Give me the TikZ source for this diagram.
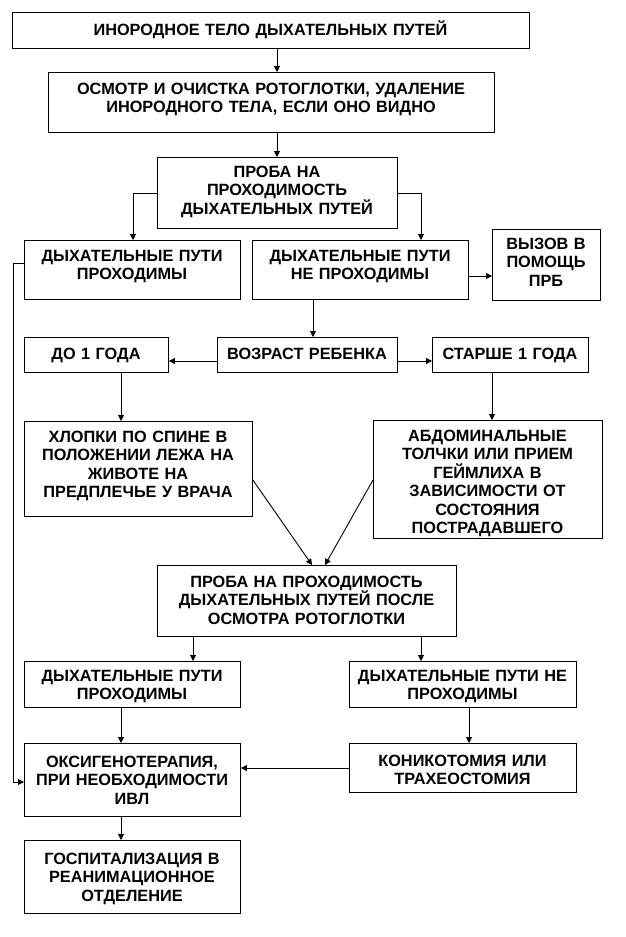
\documentclass[tikz,border=0pt]{standalone}
\usepackage{fontspec}
\setmainfont{Liberation Sans}
\usetikzlibrary{arrows.meta}
\newcommand\bxn[7]{%
  \node[box,minimum width={#4-#2},minimum height={#5-#3},anchor=north west] (#1) at (#2,#3) {};
  \node[lbl,text width={#4-#2-6},anchor=base] (#1t) at ({(#2+#4)/2},{#3+#6}) {#7};}
\begin{document}
\begin{tikzpicture}[x=1pt,y=-1pt,
  box/.style={draw=black,line width=0.9pt,inner sep=0pt,fill=white},
  lbl/.style={inner sep=0pt,align=center,font=\bfseries\fontsize{16.3}{18.5}\selectfont},
  arr/.style={draw=black,line width=0.9pt,-{Triangle[length=6pt,width=6pt]}},
  ln/.style={draw=black,line width=0.9pt}]
\useasboundingbox[fill=white] (0,0) rectangle (625,937);
\bxn{b1}{12}{12}{529}{48}{23}{ИНОРОДНОЕ ТЕЛО ДЫХАТЕЛЬНЫХ ПУТЕЙ}
\bxn{b2}{48}{72}{494}{132}{22}{ОСМОТР И ОЧИСТКА РОТОГЛОТКИ, УДАЛЕНИЕ\\ИНОРОДНОГО ТЕЛА, ЕСЛИ ОНО ВИДНО}
\bxn{b3}{157}{157}{397}{228}{20}{ПРОБА НА\\ПРОХОДИМОСТЬ\\ДЫХАТЕЛЬНЫХ ПУТЕЙ}
\bxn{b4}{24}{240}{240}{299}{21}{ДЫХАТЕЛЬНЫЕ ПУТИ\\ПРОХОДИМЫ}
\bxn{b5}{252}{240}{468}{299}{21}{ДЫХАТЕЛЬНЫЕ ПУТИ\\НЕ ПРОХОДИМЫ}
\bxn{b6}{492}{229}{600}{300}{20}{ВЫЗОВ В\\ПОМОЩЬ\\ПРБ}
\bxn{b7}{217}{337}{397}{372}{22}{ВОЗРАСТ РЕБЕНКА}
\bxn{b8}{24}{337}{168}{372}{22}{ДО 1 ГОДА}
\bxn{b9}{432}{337}{588}{372}{22}{СТАРШЕ 1 ГОДА}
\bxn{b10}{24}{421}{252}{516}{21}{ХЛОПКИ ПО СПИНЕ В\\ПОЛОЖЕНИИ ЛЕЖА НА\\ЖИВОТЕ НА\\ПРЕДПЛЕЧЬЕ У ВРАЧА}
\bxn{b11}{373}{420}{602}{538}{21}{АБДОМИНАЛЬНЫЕ\\ТОЛЧКИ ИЛИ ПРИЕМ\\ГЕЙМЛИХА В\\ЗАВИСИМОСТИ ОТ\\СОСТОЯНИЯ\\ПОСТРАДАВШЕГО}
\bxn{b12}{157}{565}{456}{636}{22}{ПРОБА НА ПРОХОДИМОСТЬ\\ДЫХАТЕЛЬНЫХ ПУТЕЙ ПОСЛЕ\\ОСМОТРА РОТОГЛОТКИ}
\bxn{b13}{24}{661}{240}{707}{20}{ДЫХАТЕЛЬНЫЕ ПУТИ\\ПРОХОДИМЫ}
\bxn{b14}{349}{661}{576}{707}{20}{ДЫХАТЕЛЬНЫЕ ПУТИ НЕ\\ПРОХОДИМЫ}
\bxn{b15}{24}{743}{240}{816}{24}{ОКСИГЕНОТЕРАПИЯ,\\ПРИ НЕОБХОДИМОСТИ\\ИВЛ}
\bxn{b16}{349}{743}{576}{792}{23}{КОНИКОТОМИЯ ИЛИ\\ТРАХЕОСТОМИЯ}
\bxn{b17}{24}{840}{240}{913}{24}{ГОСПИТАЛИЗАЦИЯ В\\РЕАНИМАЦИОННОЕ\\ОТДЕЛЕНИЕ}
% helper coordinates
\coordinate (x13) at (13,0);
\coordinate (x121) at (121,0);
\coordinate (x133) at (133,0);
\coordinate (x193) at (193,0);
\coordinate (x277) at (277,0);
\coordinate (x312) at (312,0);
\coordinate (x313) at (313,0);
\coordinate (x325) at (325,0);
\coordinate (x421) at (421,0);
\coordinate (x469) at (469,0);
\coordinate (x492) at (492,0);
\coordinate (y263) at (0,263);
\coordinate (y276) at (0,276);
\coordinate (y361) at (0,361);
\coordinate (y480) at (0,480);
\coordinate (y768) at (0,768);
\coordinate (y782) at (0,782);
\coordinate (lt) at (13,263);
\coordinate (lb) at (13,782);
% connectors
\draw[arr] (b1.south -| x277) -- (b2.north -| x277);
\draw[arr] (b2.south -| x277) -- (b3.north -| x277);
\draw[arr] (b3.west) -| (b4.north -| x133);
\draw[arr] (b3.east) -| (b5.north -| x421);
\draw[arr] (b5.east |- y276) -- (b6.west |- y276);
\draw[arr] (b5.south -| x313) -- (b7.north -| x313);
\draw[arr] (b7.west |- y361) -- (b8.east |- y361);
\draw[arr] (b7.east |- y361) -- (b9.west |- y361);
\draw[arr] (b8.south -| x121) -- (b10.north -| x121);
\draw[arr] (b9.south -| x492) -- (b11.north -| x492);
\draw[arr] (b10.east |- y480) -- (b12.north -| x312);
\draw[arr] (b11.west |- y480) -- (b12.north -| x325);
\draw[arr] (b12.south -| x193) -- (b13.north -| x193);
\draw[arr] (b12.south -| x421) -- (b14.north -| x421);
\draw[arr] (b13.south -| x121) -- (b15.north -| x121);
\draw[arr] (b14.south -| x469) -- (b16.north -| x469);
\draw[arr] (b16.west |- y768) -- (b15.east |- y768);
\draw[arr] (b15.south -| x121) -- (b17.north -| x121);
\draw[arr] (b4.west |- lt) -- (lt) -- (lb) -- (b15.west |- lb);
\end{tikzpicture}
\end{document}
